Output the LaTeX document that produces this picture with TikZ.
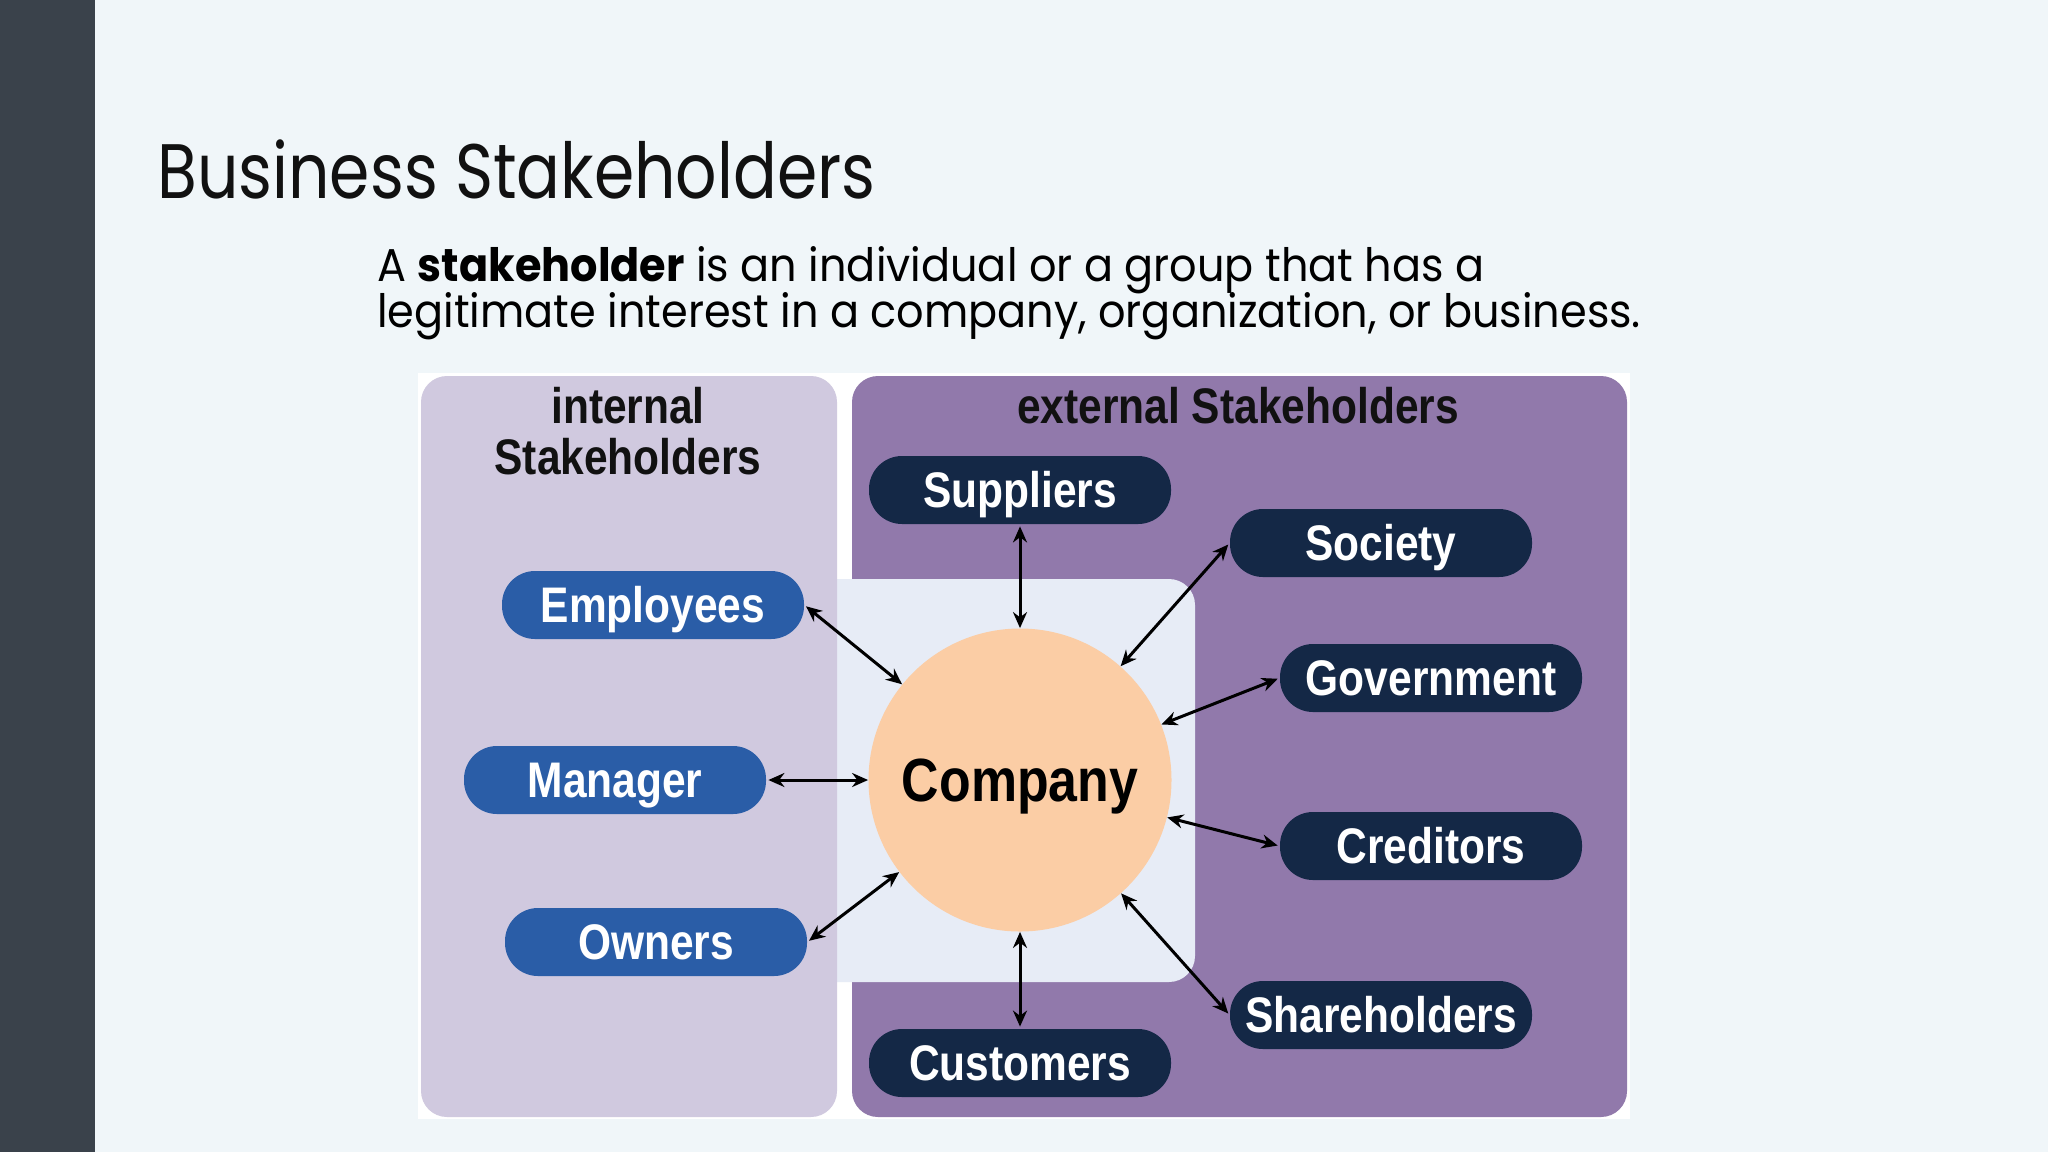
\documentclass[tikz,border=0pt]{standalone}
\usepackage{fontspec}
\setmainfont{Poppins}
\newfontfamily\titlefont[FakeStretch=0.84]{Poppins}
\newfontfamily\deffont[FakeStretch=0.935]{Poppins}
\newfontfamily\dfont[FakeStretch=0.85]{Liberation Sans}
\usetikzlibrary{arrows.meta}
\definecolor{slidebg}{HTML}{F0F6F9}
\definecolor{sidebar}{HTML}{3A424B}
\definecolor{intpanel}{HTML}{D0C9DF}
\definecolor{extpanel}{HTML}{9179AB}
\definecolor{lightbox}{HTML}{E7ECF6}
\definecolor{pillblue}{HTML}{2A5DA7}
\definecolor{pillnavy}{HTML}{142846}
\definecolor{peach}{HTML}{FBCDA5}
\definecolor{ink}{HTML}{111111}
\tikzset{
  pill/.style={rounded corners=16.5pt, minimum width=151pt, minimum height=34pt,
    inner sep=0pt, text=white, text height=17.9pt, text depth=0pt,
    font=\dfont\bfseries\fontsize{25}{25}\selectfont},
  bluepill/.style={pill, fill=pillblue},
  navypill/.style={pill, fill=pillnavy},
  header/.style={anchor=base, inner sep=0pt, text=ink,
    font=\dfont\bfseries\fontsize{25}{25}\selectfont},
  arr/.style={{Stealth[length=8pt,width=7pt]}-{Stealth[length=8pt,width=7pt]},
    line width=1.5pt, black, shorten <=1pt},
}
\begin{document}
\begin{tikzpicture}[x=0.5pt,y=-0.5pt]
\useasboundingbox (0,0) rectangle (2048,1152);
% background
\fill[slidebg] (0,0) rectangle (2048,1152);
\fill[sidebar] (0,0) rectangle (95,1152);
% title and definition
\node[anchor=base west, inner sep=0pt, text=ink, font=\titlefont\fontsize{38.6}{38.6}\selectfont]
  (title) at (157,198.5) {Business Stakeholders};
\node[anchor=base west, inner sep=0pt, text=black, font=\deffont\fontsize{23}{23}\selectfont]
  (def1) at (377,281) {A \textbf{stakeholder} is an individual or a group that has a};
\node[anchor=base west, inner sep=0pt, text=black, font=\deffont\fontsize{23}{23}\selectfont]
  (def2) at (377,327) {legitimate interest in a company, organization, or business.};
% diagram panels
\fill[white] (418,373) rectangle (1630,1119);
\fill[extpanel, rounded corners=13pt] (852,376) rectangle (1627,1117);
\fill[lightbox, rounded corners=13pt] (800,579) rectangle (1195,982);
\fill[intpanel, rounded corners=13pt] (421,376) rectangle (837,1117);
% headers
\node[header] (inthead1) at (628,423) {internal};
\node[header] (inthead2) at (628,474) {Stakeholders};
\node[header] (exthead) at (1238,423) {external Stakeholders};
% company
\node[circle, fill=peach, minimum size=151.5pt, inner sep=0pt, text=black,
  text height=21.8pt, text depth=0pt,
  font=\dfont\bfseries\fontsize{30.5}{30.5}\selectfont] (company) at (1020,780) {Company};
% internal stakeholders
\node[bluepill] (employees) at (653,605) {Employees};
\node[bluepill] (manager) at (615,780) {Manager};
\node[bluepill] (owners) at (656,942) {Owners};
% external stakeholders
\node[navypill] (suppliers) at (1020,490) {Suppliers};
\node[navypill] (society) at (1381,543) {Society};
\node[navypill] (government) at (1431,678) {Government};
\node[navypill] (creditors) at (1431,846) {Creditors};
\node[navypill] (shareholders) at (1381,1015) {Shareholders};
\node[navypill] (customers) at (1020,1063) {Customers};
% connectors
\draw[arr] (employees.east) -- (company);
\draw[arr] (manager.east) -- (company);
\draw[arr] (owners.east) -- (company);
\draw[arr] (suppliers.south) -- (company);
\draw[arr] (society.west) -- (company);
\draw[arr] (government.west) -- (company);
\draw[arr] (creditors.west) -- (company);
\draw[arr] (shareholders.west) -- (company);
\draw[arr] (customers.north) -- (company);
\end{tikzpicture}
\end{document}
